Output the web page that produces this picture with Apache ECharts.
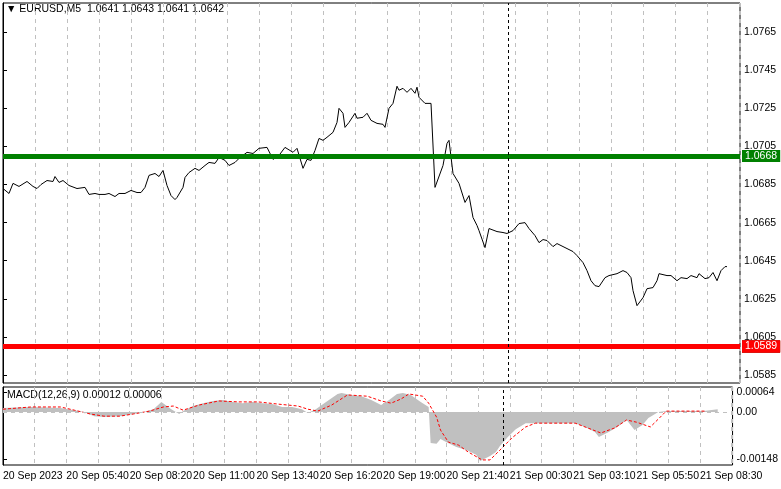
<!DOCTYPE html>
<html><head><meta charset="utf-8">
<script src="https://cdn.jsdelivr.net/npm/echarts@6/dist/echarts.min.js"></script>
<style>html,body{margin:0;padding:0;background:#fff}#c{width:781px;height:489px}</style>
</head><body><div id="c"></div>
<script>
const timeLabels = ['20 Sep 2023','20 Sep 05:40','20 Sep 08:20','20 Sep 11:00','20 Sep 13:40','20 Sep 16:20','20 Sep 19:00','20 Sep 21:40','21 Sep 00:30','21 Sep 03:10','21 Sep 05:50','21 Sep 08:30'];
const priceTicks = [1.0585,1.0605,1.0625,1.0645,1.0665,1.0685,1.0705,1.0725,1.0745,1.0765];
const priceBars = [0,3,5,8,12,15,17,19,22,25,26,28,30,33,37,41,43,46,48,51,53,56,58,61,64,67,69,71,73,76,78,80,82,84,86,87,90,91,93,96,98,101,103,106,108,111,113,116,118,122,125,128,132,135,138,141,145,147,150,152,154,156,158,160,162,165,167,168,170,171,173,176,177,180,182,184,187,190,191,193,195,197,198,200,202,204,206,207,208,211,214,215,216,217,220,222,223,225,228,231,233,235,237,238,241,243,247,250,252,255,258,261,263,266,268,270,272,275,277,281,285,287,290,292,294,296,298,301,303,307,310,312,314,315,317,318,320,322,325,327,328,332,334,337,339,342,344,347,348,351,353,355,357,359,361,362];
const prices = [1.06829,1.06803,1.06856,1.06840,1.06866,1.06840,1.06829,1.06850,1.06871,1.06866,1.06892,1.06861,1.06871,1.06845,1.06829,1.06835,1.06798,1.06803,1.06798,1.06798,1.06803,1.06787,1.06803,1.06803,1.06819,1.06808,1.06808,1.06835,1.06898,1.06908,1.06892,1.06924,1.06845,1.06792,1.06771,1.06782,1.06835,1.06887,1.06913,1.06935,1.06924,1.06950,1.06966,1.06961,1.06992,1.06977,1.06950,1.06966,1.06987,1.07019,1.07013,1.07040,1.07045,1.06982,1.07003,1.07045,1.07019,1.07040,1.06935,1.06982,1.06977,1.07029,1.07092,1.07082,1.07098,1.07124,1.07176,1.07250,1.07224,1.07150,1.07176,1.07224,1.07198,1.07203,1.07224,1.07187,1.07171,1.07166,1.07150,1.07250,1.07276,1.07366,1.07345,1.07355,1.07334,1.07355,1.07329,1.07361,1.07308,1.07276,1.07276,1.07266,1.06835,1.06829,1.06950,1.07066,1.07082,1.06908,1.06856,1.06756,1.06792,1.06677,1.06635,1.06608,1.06519,1.06619,1.06603,1.06598,1.06593,1.06608,1.06645,1.06650,1.06619,1.06582,1.06545,1.06561,1.06556,1.06524,1.06540,1.06519,1.06498,1.06477,1.06440,1.06398,1.06345,1.06319,1.06314,1.06361,1.06372,1.06382,1.06398,1.06388,1.06361,1.06293,1.06214,1.06209,1.06256,1.06303,1.06309,1.06345,1.06382,1.06372,1.06372,1.06345,1.06361,1.06356,1.06372,1.06361,1.06382,1.06356,1.06361,1.06388,1.06345,1.06398,1.06419,1.06419];
const histBars = [0,14,29,36,41,46,51,59,66,71,76,80,85,89,91,96,101,106,111,116,121,126,131,136,141,146,151,154,158,161,169,171,176,181,186,191,195,199,202,206,211,215,216,219,221,224,229,234,239,241,246,249,251,255,259,264,269,289,294,299,301,306,311,315,319,323,326,331,335,344,354,361];
const histVals = [0.00013,0.00016,0.00013,0.00006,0,-0.00013,-0.00016,-0.00013,-0.00006,0,0.00009,0.00032,0.00009,-0.00006,0.00003,0.00019,0.00028,0.00035,0.00038,0.00032,0.00028,0.00032,0.00028,0.00025,0.00016,0.00016,0.00009,-0.00003,0.00009,0.00022,0.00057,0.0006,0.00054,0.0005,0.00038,0.00022,0.00038,0.00057,0.0006,0.00054,0.00032,0.00016,-0.00098,-0.001,-0.00085,-0.00095,-0.0011,-0.0012,-0.00135,-0.00154,-0.00139,-0.00126,-0.00107,-0.00079,-0.00054,-0.00035,-0.00035,-0.00035,-0.00047,-0.00063,-0.00079,-0.00063,-0.00044,-0.00025,-0.00057,-0.00041,-0.00019,0,0.00003,0.00003,0.00003,0.00009];
const sigBars = [0,14,29,36,44,51,59,66,74,81,86,91,99,109,119,129,139,149,154,159,166,174,184,191,196,201,205,212,215,219,221,225,230,235,242,246,251,257,264,269,289,294,302,309,315,320,327,332,335,355];
const sigVals = [0.00009,0.00016,0.00016,0.00006,-0.00006,-0.00013,-0.00013,-0.00006,0.00003,0.00016,0.00019,0.00006,0.00022,0.00035,0.00032,0.00032,0.00025,0.00019,0.00009,0.00003,0.00022,0.00054,0.0005,0.00035,0.00028,0.00041,0.00057,0.0005,0.00028,-0.00016,-0.00057,-0.00095,-0.00104,-0.00126,-0.00151,-0.00151,-0.0012,-0.00082,-0.00047,-0.00035,-0.00035,-0.00047,-0.00066,-0.0005,-0.00025,-0.00032,-0.00047,-0.00016,0.00003,0.00003];
const levels = [
  {v:1.0705,c:'#008000',w:5},{v:1.0668,c:'#008000',w:3},{v:1.0645,c:'#ff4500',w:1},
  {v:1.0642,c:'#c0c0c0',w:1,bg:'#000000'},{v:1.0632,c:'#ff0000',w:3},{v:1.0589,c:'#ff0000',w:5}
];
const macdTicks = [0.00064,0,-0.00148];
const cursorBar = 252.5;

const font = 'Liberation Sans';
const zip = (a,b)=>a.map((x,i)=>[x,b[i]]);
const xBase = {type:'value',min:0,max:368.5,interval:16,axisLine:{show:false},axisTick:{show:false},
  splitLine:{show:true,lineStyle:{color:'#c0c0c0',type:[4,4],width:1}}};
const gridLines = priceTicks.map(v=>({yAxis:v,label:{show:false},lineStyle:{color:'#c0c0c0',type:[4,4],width:1}}));
const levelLines = levels.map(l=>({yAxis:l.v,lineStyle:{color:l.c,width:l.w,type:'solid'},
  label:{show:true,position:'end',distance:2,formatter:l.v.toFixed(4),color:'#fff',fontSize:10.5,fontFamily:font,
    backgroundColor:l.bg||l.c,padding:[1,3,0,3]}}));
const chart = echarts.init(document.getElementById('c'),null,{renderer:'canvas'});
chart.setOption({
  animation:false,
  textStyle:{fontFamily:font},
  grid:[{left:3,top:3,right:41,height:380,show:true,borderColor:'#000',borderWidth:1},
        {left:3,top:387,right:41,height:78,show:true,borderColor:'#000',borderWidth:1}],
  xAxis:[Object.assign({gridIndex:0,axisLabel:{show:false}},xBase),
         Object.assign({gridIndex:1,axisLabel:{show:true,fontSize:10.5,color:'#000',fontFamily:font,align:'left',margin:6,
            formatter:v=> (v%32===0 && timeLabels[v/32]) ? timeLabels[v/32] : ''}},xBase)],
  yAxis:[{gridIndex:0,type:'value',position:'right',min:1.05808,max:1.07803,
          axisLine:{show:true,lineStyle:{color:'#000'}},splitLine:{show:false},
          axisTick:{show:true,customValues:priceTicks,length:4,lineStyle:{color:'#000'}},
          axisLabel:{customValues:priceTicks,color:'#000',fontSize:10.5,fontFamily:font,margin:4,formatter:v=>v.toFixed(4)}},
         {gridIndex:1,type:'value',position:'right',min:-0.00167,max:0.00079,
          axisLine:{show:true,lineStyle:{color:'#000'}},splitLine:{show:false},
          axisTick:{show:true,customValues:macdTicks,length:4,lineStyle:{color:'#000'}},
          axisLabel:{customValues:macdTicks,color:'#000',fontSize:10.5,fontFamily:font,margin:4,formatter:v=>v===0?'0.00':v.toFixed(5)}}],
  graphic:[
    {type:'text',left:6,top:4,style:{text:'▼ EURUSD,M5  1.0641 1.0643 1.0641 1.0642',fontSize:10.5,fontFamily:font,fill:'#000'}},
    {type:'text',left:7,top:390,style:{text:'MACD(12,26,9) 0.00012 0.00006',fontSize:10.5,fontFamily:font,fill:'#000'}}
  ],
  series:[
    {type:'line',xAxisIndex:0,yAxisIndex:0,data:zip(priceBars,prices),showSymbol:false,z:4,
     lineStyle:{color:'#000',width:1},
     markLine:{symbol:'none',silent:true,
       data:gridLines.concat(levelLines).concat([{xAxis:cursorBar,label:{show:false},lineStyle:{color:'#000',type:[3,3],width:1}}])}},
    {type:'line',xAxisIndex:1,yAxisIndex:1,data:zip(histBars,histVals),showSymbol:false,
     lineStyle:{width:0,color:'#c0c0c0'},areaStyle:{color:'#c0c0c0',opacity:1,origin:0},
     markLine:{symbol:'none',silent:true,label:{show:false},data:[
       {yAxis:0,lineStyle:{color:'#c0c0c0',type:[4,4],width:1}},
       {xAxis:cursorBar,lineStyle:{color:'#000',type:[3,3],width:1}}]}},
    {type:'line',xAxisIndex:1,yAxisIndex:1,data:zip(sigBars,sigVals),showSymbol:false,
     lineStyle:{color:'#ff0000',width:1,type:[3,2]}}
  ]
});
</script></body></html>
